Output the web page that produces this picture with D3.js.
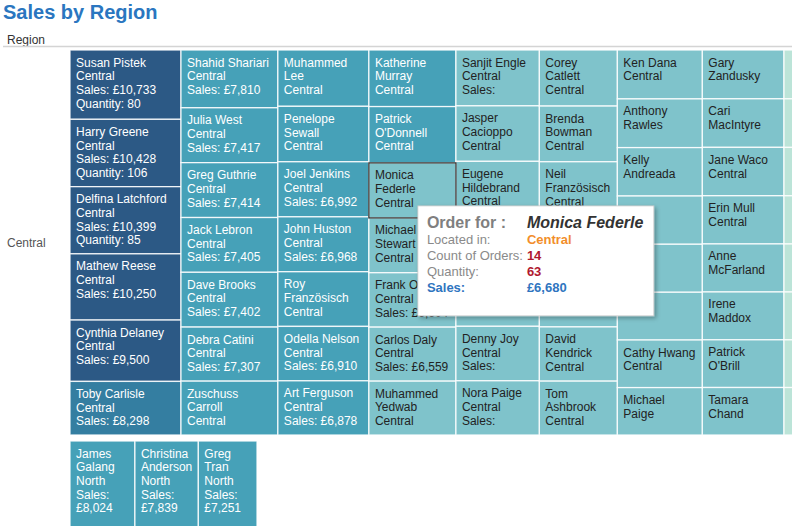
<!DOCTYPE HTML>
<html>
  <head>
    <meta charset="utf-8">
    <style>
      body { margin: 0; background: #fff; }
      text { font-family: "Liberation Sans", Arial, sans-serif; }
    </style>
  </head>
  <body>

    <script src="https://cdn.jsdelivr.net/npm/d3@7"></script>

    <script>

		// *** DATA ***

		// Central customers, largest first (null = name hidden / off screen)
		var centralNames = [
			'Susan Pistek', 'Harry Greene', 'Delfina Latchford', 'Mathew Reese', 'Cynthia Delaney', 'Toby Carlisle',
			'Shahid Shariari', 'Julia West', 'Greg Guthrie', 'Jack Lebron', 'Dave Brooks', 'Debra Catini', 'Zuschuss Carroll',
			'Muhammed Lee', 'Penelope Sewall', 'Joel Jenkins', 'John Huston', 'Roy Französisch', 'Odella Nelson', 'Art Ferguson',
			'Katherine Murray', "Patrick O'Donnell", 'Monica Federle', 'Michael Stewart', 'Frank Olsen', 'Carlos Daly', 'Muhammed Yedwab',
			'Sanjit Engle', 'Jasper Cacioppo', 'Eugene Hildebrand', null, null, 'Denny Joy', 'Nora Paige',
			'Corey Catlett', 'Brenda Bowman', 'Neil Französisch', null, null, 'David Kendrick', 'Tom Ashbrook',
			'Ken Dana', 'Anthony Rawles', 'Kelly Andreada', null, null, null, 'Cathy Hwang', 'Michael Paige',
			'Gary Zandusky', 'Cari MacIntyre', 'Jane Waco', 'Erin Mull', 'Anne McFarland', 'Irene Maddox', "Patrick O'Brill", 'Tamara Chand',
			null, null, null, null, null, null, null, null
		];
		var centralSales = [
			10733, 10428, 10399, 10250, 9500, 8298,
			7810, 7417, 7414, 7405, 7402, 7307, 7280,
			7150, 7040, 6992, 6968, 6940, 6910, 6878,
			6870, 6840, 6680, 6660, 6604, 6559, 6540,
			6500, 6460, 6430, 6400, 6370, 6340, 6310,
			6100, 6060, 6020, 5990, 5960, 5900, 5860,
			5800, 5770, 5740, 5720, 5690, 5660, 5640, 5620,
			5560, 5530, 5510, 5490, 5470, 5450, 5430, 5410,
			5380, 5350, 5330, 5310, 5290, 5270, 5250, 5230
		];
		var centralQuantity = [80, 106, 85];          // only shown on the first three tiles
		var centralColumnSizes = [6, 7, 7, 7, 7, 7, 8, 8, 8];   // tiles in each treemap strip

		var northNames = ['James Galang', 'Christina Anderson', 'Greg Tran'];
		var northSales = [8024, 7839, 7251];

		// stepped colour (Tableau blue-teal)
		var colorSteps = [5400, 6800, 8200, 9000];
		var colorRange = ['#bce4d8', '#7fc3cb', '#46a1b8', '#347ea1', '#2c5985'];
		var darkText = ['#bce4d8', '#7fc3cb'];

		// tooltip for the hovered tile
		var tipName = 'Monica Federle';
		var tipLabels = ['Located in:', 'Count of Orders:', 'Quantity:', 'Sales:'];
		var tipValues = ['Central', '14', '63', '£6,680'];
		var tipColors = ['#f28e2b', '#b0182f', '#b0182f', '#2f75bf'];

		// *** SETTINGS ***

		var width = 792, height = 526;
		var headerW = 70;        // row header column
		var paneTop = 50, paneH = 385;
		var northTop = 441, northW = 187;
		var salesPerPx = 1.395;  // sales per square pixel, same for every pane
		var fontSize = 12, lineH = 13.7;

		var fmt = d3.format(',');
		var color = d3.scaleThreshold().domain(colorSteps).range(colorRange);

		var ctx = document.createElement('canvas').getContext('2d');
		ctx.font = fontSize + 'px "Liberation Sans", Arial, sans-serif';

		// FUNCTION: greedy word wrap
		function wrapText(str, maxW){
			var words = str.split(' '), lines = [], line = '';
			words.forEach(function(w){
				var test = line ? line + ' ' + w : w;
				if(line && ctx.measureText(test).width > maxW){
					lines.push(line);
					line = w;
				}else{
					line = test;
				}
			});
			if(line) lines.push(line);
			return lines;
		}

		// FUNCTION: label lines that fit in a tile
		function tileLines(d){
			if(!d.data.name) return [];
			var w = d.x1 - d.x0, h = d.y1 - d.y0, avail = w - 11;
			var lines = wrapText(d.data.name, avail)
				.concat([d.data.region])
				.concat(wrapText('Sales: £' + fmt(d.data.sales), avail));
			if(d.data.quantity != null) lines.push('Quantity: ' + d.data.quantity);
			return lines.filter(function(l, i){ return 16.5 + i * lineH + 7 <= h; });
		}

		// *** BUILD HIERARCHIES ***

		var columns = [], idx = 0;
		centralColumnSizes.forEach(function(n){
			var kids = [];
			for(var j = 0; j < n; j++){
				kids.push({name: centralNames[idx], sales: centralSales[idx], quantity: centralQuantity[idx], region: 'Central'});
				idx++;
			}
			columns.push({children: kids});
		});
		var centralRoot = d3.hierarchy({children: columns}).sum(function(d){ return d.children ? 0 : d.sales; });
		d3.treemap().tile(d3.treemapSliceDice)
			.size([centralRoot.value / (salesPerPx * paneH), paneH])(centralRoot);

		var northRoot = d3.hierarchy({children: northNames.map(function(n, i){
			return {name: n, sales: northSales[i], region: 'North'};
		})}).sum(function(d){ return d.children ? 0 : d.sales; });
		d3.treemap().tile(d3.treemapDice)
			.size([northW, northRoot.value / (salesPerPx * northW)])(northRoot);

		// *** DRAW ***

		var svg = d3.select('body').append('svg')
			.attr('width', width)
			.attr('height', height);

		var defs = svg.append('defs');
		var shadow = defs.append('filter').attr('id', 'shadow')
			.attr('x', '-10%').attr('y', '-10%').attr('width', '130%').attr('height', '130%');
		shadow.append('feDropShadow').attr('dx', 2).attr('dy', 2)
			.attr('stdDeviation', 2).attr('flood-color', '#000').attr('flood-opacity', 0.3);

		// title and header
		svg.append('text')
			.attr('x', 3).attr('y', 19)
			.style('font-size', '20px').style('font-weight', 'bold')
			.style('fill', '#2a76c0')
			.text('Sales by Region');

		svg.append('text')
			.attr('x', 7).attr('y', 43.5)
			.style('font-size', '12px').style('fill', '#333')
			.text('Region');

		svg.append('line')
			.attr('x1', 3).attr('x2', width)
			.attr('y1', 46.5).attr('y2', 46.5)
			.style('stroke', '#d4d4d4').style('stroke-width', 1.5);

		svg.append('text')
			.attr('x', 7).attr('y', paneTop + paneH / 2 + 4)
			.style('font-size', '12px').style('fill', '#555')
			.text('Central');

		// FUNCTION: draw one pane of tiles
		function drawPane(root, x, y){
			var pane = svg.append('g').attr('transform', 'translate(' + x + ',' + y + ')');
			var cell = pane.selectAll('g.tile').data(root.leaves())
				.enter().append('g')
					.classed('tile', true)
					.attr('transform', function(d){ return 'translate(' + d.x0 + ',' + d.y0 + ')'; });

			cell.append('rect')
				.attr('width', function(d){ return d.x1 - d.x0; })
				.attr('height', function(d){ return d.y1 - d.y0; })
				.style('fill', function(d){ return color(d.data.sales); })
				.style('stroke', 'rgba(255,255,255,0.85)')
				.style('stroke-width', 1.3);

			cell.each(function(d){
				var fill = color(d.data.sales);
				var txtColor = darkText.indexOf(fill) >= 0 ? '#222' : '#fff';
				d3.select(this).selectAll('text').data(tileLines(d))
					.enter().append('text')
						.attr('x', 6)
						.attr('y', function(l, i){ return 16.5 + i * lineH; })
						.style('font-size', fontSize + 'px')
						.style('fill', txtColor)
						.text(function(l){ return l; });
			});
			return pane;
		}

		drawPane(centralRoot, headerW, paneTop);
		drawPane(northRoot, headerW, northTop);

		// hovered tile + tooltip
		var hover = centralRoot.leaves().filter(function(d){ return d.data.name === tipName; })[0];
		var hx = headerW + hover.x0, hy = paneTop + hover.y0;
		svg.append('rect')
			.attr('x', hx).attr('y', hy)
			.attr('width', hover.x1 - hover.x0).attr('height', hover.y1 - hover.y0)
			.style('fill', 'none').style('stroke', '#333').style('stroke-width', 1.3);

		var tip = svg.append('g').attr('transform', 'translate(' + (hx + 49) + ',' + (hy + 43) + ')');
		tip.append('rect')
			.attr('width', 236).attr('height', 110)
			.style('fill', '#fff').style('stroke', '#c8c8c8').style('stroke-width', 0.8)
			.attr('filter', 'url(#shadow)');

		tip.append('text')
			.attr('x', 9).attr('y', 22)
			.style('font-size', '16px').style('font-weight', 'bold').style('fill', '#7f7f7f')
			.text('Order for :');
		tip.append('text')
			.attr('x', 109).attr('y', 22)
			.style('font-size', '16px').style('font-weight', 'bold').style('font-style', 'italic')
			.style('fill', '#333')
			.text(tipName);

		tipLabels.forEach(function(lab, i){
			var last = i === tipLabels.length - 1;
			tip.append('text')
				.attr('x', 9).attr('y', 38.5 + i * 16)
				.style('font-size', '13px')
				.style('font-weight', last ? 'bold' : 'normal')
				.style('fill', last ? tipColors[i] : '#8a8a8a')
				.text(lab);
			tip.append('text')
				.attr('x', 109).attr('y', 38.5 + i * 16)
				.style('font-size', '13px').style('font-weight', 'bold')
				.style('fill', tipColors[i])
				.text(tipValues[i]);
		});

	</script>
  </body>
</html>
